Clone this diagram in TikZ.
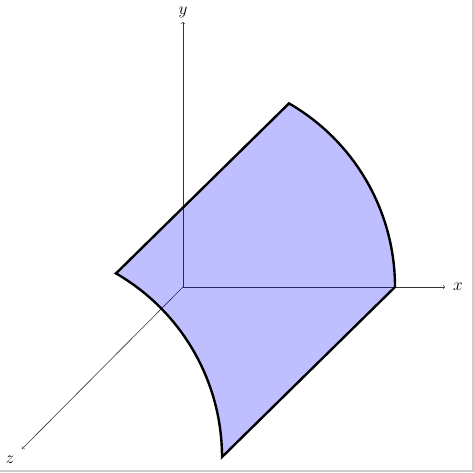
\documentclass[tikz,border=0pt]{standalone}
\usetikzlibrary{calc}
\begin{document}
\begin{tikzpicture}[x=1pt,y=1pt,
  axis/.style={->,line width=0.6pt,black!80},
  axlabel/.style={font=\fontsize{16}{18}\selectfont,inner sep=0pt},
  surf/.style={fill=blue,fill opacity=0.25,draw=black,draw opacity=1,line width=2.4pt,line join=miter}]
\useasboundingbox (0,0) rectangle (474,-472);
\draw[black!20,line width=2pt] (473,0) -- (473,-471) -- (0,-471);
\coordinate (O) at (183,-287);
\coordinate (X) at (445,-287);
\coordinate (Y) at (183,-22);
\coordinate (Z) at (22,-449);
\draw[axis] (O) -- (X);
\draw[axis] (O) -- (Y);
\draw[axis] (O) -- (Z);
\node[axlabel] (xl) at (458,-287) {$x$};
\node[axlabel] (yl) at (183,-12) {$y$};
\node[axlabel] (zl) at (10,-460) {$z$};
\coordinate (B) at ($(O)+(60:212)$);
\coordinate (S) at (-173,-170);
\coordinate (A) at ($(B)+(S)$);
\draw[surf] (A) -- (B) arc[start angle=60,end angle=0,radius=212] -- ++(-173,-170) arc[start angle=0,end angle=60,radius=212] -- cycle;
\end{tikzpicture}
\end{document}
